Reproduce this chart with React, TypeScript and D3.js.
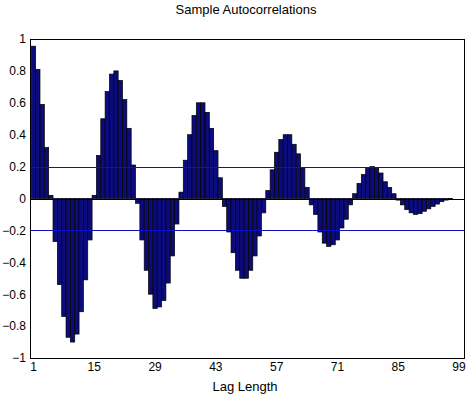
import * as d3 from 'd3';
import React, { useEffect, useRef } from 'react';

// sample autocorrelation per lag
const lags: number[] = d3.range(1, 100);
const acf: number[] = [
  0.955, 0.81, 0.59, 0.32, 0.02, -0.27, -0.54, -0.74, -0.87, -0.9,
  -0.85, -0.71, -0.51, -0.26, 0.02, 0.27, 0.5, 0.67, 0.78, 0.8,
  0.74, 0.62, 0.44, 0.21, -0.03, -0.26, -0.45, -0.6, -0.69, -0.68,
  -0.64, -0.53, -0.36, -0.16, 0.04, 0.24, 0.4, 0.52, 0.6, 0.6,
  0.54, 0.44, 0.3, 0.13, -0.05, -0.21, -0.34, -0.45, -0.5, -0.5,
  -0.45, -0.36, -0.235, -0.09, 0.05, 0.18, 0.29, 0.37, 0.4, 0.4,
  0.34, 0.28, 0.19, 0.07, -0.04, -0.1, -0.21, -0.28, -0.3, -0.29,
  -0.26, -0.185, -0.13, -0.04, 0.03, 0.095, 0.15, 0.19, 0.2, 0.19,
  0.16, 0.105, 0.07, 0.03, -0.01, -0.04, -0.07, -0.09, -0.1, -0.095,
  -0.08, -0.065, -0.05, -0.035, -0.02, -0.01, -0.004, 0, 0,
];
const xTicks: number[] = [1, 15, 29, 43, 57, 71, 85, 99];
const yTicks: number[] = [1, 0.8, 0.6, 0.4, 0.2, 0, -0.2, -0.4, -0.6, -0.8, -1];
const bounds: number[] = [0.2, -0.2];

const App = () => {
  const ref = useRef<SVGSVGElement>(null);

  useEffect(() => {
    const width = 471, height = 397;
    const left = 30, right = 464, top = 39, bottom = 358;
    const font = '"Liberation Sans", Arial, sans-serif';

    const svg = d3.select(ref.current);
    svg.selectAll('*').remove();

    const x = d3.scaleBand<number>()
      .domain(lags)
      .range([31.3, 461.2])
      .padding(0);

    const y = d3.scaleLinear()
      .domain([-1, 1])
      .range([bottom, top]);

    // bars
    svg.append('g')
      .selectAll('rect')
      .data(lags)
      .join('rect')
      .attr('x', d => x(d)!)
      .attr('y', (d, i) => y(Math.max(0, acf[i])))
      .attr('width', x.bandwidth())
      .attr('height', (d, i) => Math.abs(y(acf[i]) - y(0)))
      .attr('fill', '#0b0b7c')
      .attr('stroke', '#000')
      .attr('stroke-width', 0.7);

    svg.append('line')
      .attr('x1', left)
      .attr('x2', right)
      .attr('y1', Math.round(y(0)) + 0.5)
      .attr('y2', Math.round(y(0)) + 0.5)
      .attr('stroke', '#000');

    // confidence bounds
    svg.append('g')
      .selectAll('rect')
      .data(bounds)
      .join('rect')
      .attr('x', left)
      .attr('width', right - left)
      .attr('y', d => Math.round(y(d)))
      .attr('height', 1)
      .attr('fill', '#1010c0')
      .attr('shape-rendering', 'crispEdges');

    // frame
    svg.append('rect')
      .attr('x', left + 0.5)
      .attr('y', top + 0.5)
      .attr('width', right - left)
      .attr('height', bottom - top)
      .attr('fill', 'none')
      .attr('stroke', '#000');

    // x axis labels
    const xAxis = svg.append('g')
      .attr('transform', `translate(0,${bottom})`)
      .call(d3.axisBottom(x).tickValues(xTicks).tickSize(0).tickPadding(4));
    xAxis.select('.domain').remove();
    xAxis.selectAll('text')
      .attr('fill', '#000')
      .attr('font-family', font)
      .attr('font-size', 12);

    // y axis labels
    const yAxis = svg.append('g')
      .attr('transform', `translate(${left},0)`)
      .call(d3.axisLeft(y).tickValues(yTicks).tickSize(0).tickPadding(4).tickFormat(d3.format('')));
    yAxis.select('.domain').remove();
    yAxis.selectAll('line').remove();
    yAxis.selectAll('text')
      .attr('fill', '#000')
      .attr('font-family', font)
      .attr('font-size', 12);

    svg.append('text')
      .attr('x', 246)
      .attr('y', 14)
      .attr('text-anchor', 'middle')
      .attr('font-family', font)
      .attr('font-size', 13)
      .text('Sample Autocorrelations');

    svg.append('text')
      .attr('x', 245)
      .attr('y', 391)
      .attr('text-anchor', 'middle')
      .attr('font-family', font)
      .attr('font-size', 13)
      .text('Lag Length');

    svg.attr('width', width).attr('height', height);
  }, []);

  return (
    <svg
      ref={ref}
      width={471}
      height={397}
      style={{ position: 'absolute', left: 0, top: 0, background: '#fff' }}
    />
  );
};

export default App;
